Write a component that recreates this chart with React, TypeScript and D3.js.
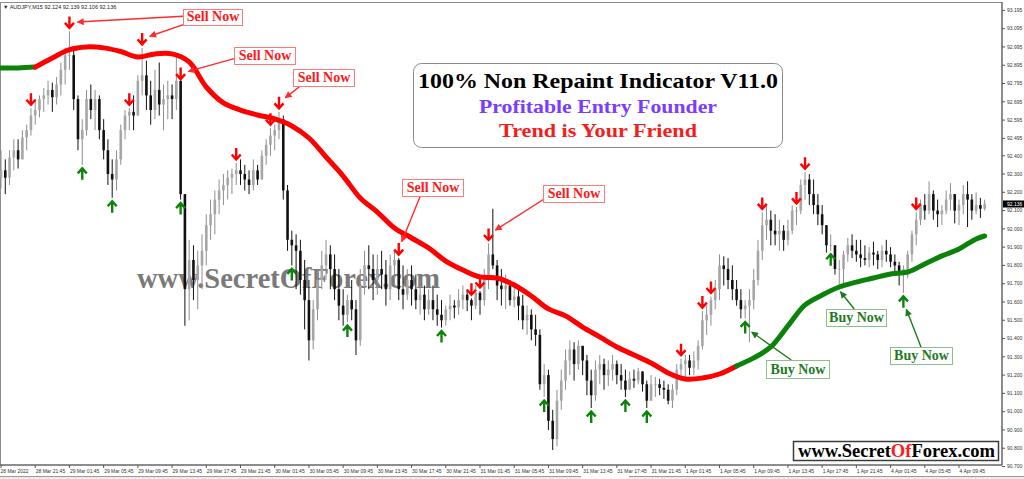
import React, { useEffect, useRef } from "react";
import * as d3 from "d3";

const W = 1024;
const H = 479;

// AUDJPY M15, one candle per 30 minutes
const highs = [
  92.43, 92.38, 92.43, 92.49, 92.49, 92.54, 92.57, 92.66,
  92.71, 92.73, 92.77, 92.81, 92.80, 92.83, 92.91, 92.99,
  93.08, 92.98, 92.73, 92.60, 92.76, 92.79, 92.76, 92.73,
  92.60, 92.49, 92.38, 92.43, 92.57, 92.65, 92.66, 92.73,
  92.84, 92.99, 92.92, 92.81, 92.87, 92.91, 92.79, 92.81,
  92.79, 92.94, 92.80, 92.19, 91.94, 91.91, 91.88, 91.97,
  92.08, 92.16, 92.21, 92.27, 92.30, 92.32, 92.33, 92.36,
  92.38, 92.35, 92.32, 92.38, 92.35, 92.43, 92.49, 92.55,
  92.57, 92.64, 92.62, 92.24, 91.99, 91.97, 91.94, 91.83,
  91.72, 91.61, 91.78, 91.88, 91.94, 91.91, 91.86, 91.78,
  91.67, 91.64, 91.72, 91.61, 91.78, 91.88, 91.91, 91.86,
  91.86, 91.88, 91.83, 91.86, 91.88, 91.84, 91.80, 91.78,
  91.80, 91.75, 91.72, 91.69, 91.67, 91.69, 91.64, 91.61,
  91.58, 91.64, 91.61, 91.67, 91.69, 91.67, 91.62, 91.69,
  91.66, 91.78, 91.92, 92.11, 91.83, 91.78, 91.75, 91.72,
  91.71,
  91.69, 91.64, 91.58, 91.56, 91.53, 91.45, 91.26, 91.23,
  91.01, 91.12, 91.23, 91.34, 91.39, 91.38, 91.39, 91.36,
  91.31, 91.23, 91.28, 91.31, 91.29, 91.28, 91.31, 91.28,
  91.26, 91.23, 91.22, 91.23, 91.24, 91.22, 91.17, 91.20,
  91.19, 91.18, 91.17, 91.15, 91.15, 91.26, 91.29, 91.31,
  91.31, 91.33, 91.39, 91.55, 91.58, 91.63, 91.72, 91.86,
  91.85, 91.84, 91.80, 91.72, 91.67, 91.61, 91.67, 91.78,
  91.94, 92.09, 92.13, 92.10, 92.08, 92.05, 92.02, 92.05,
  92.13, 92.12, 92.27, 92.31, 92.30, 92.27, 92.19, 92.13,
  92.02, 91.97, 91.91, 91.83, 91.88, 91.95, 91.97, 91.94,
  91.94, 91.91, 91.90, 91.93, 91.88, 91.91, 91.94, 91.90,
  91.86, 91.82, 91.80, 91.88, 91.99, 92.09, 92.16, 92.19,
  92.26, 92.21, 92.16, 92.13, 92.21, 92.25, 92.19, 92.16,
  92.24, 92.26, 92.19, 92.20, 92.17, 92.16,
];

const lows = [
  92.22, 92.19, 92.24, 92.32, 92.33, 92.38, 92.43, 92.51,
  92.57, 92.61, 92.64, 92.68, 92.64, 92.68, 92.73, 92.79,
  92.87, 92.65, 92.43, 92.35, 92.51, 92.60, 92.54, 92.49,
  92.38, 92.24, 92.17, 92.21, 92.35, 92.49, 92.54, 92.54,
  92.62, 92.73, 92.65, 92.57, 92.60, 92.62, 92.54, 92.60,
  92.60, 92.65, 92.16, 91.47, 91.50, 91.61, 91.56, 91.67,
  91.80, 91.94, 91.97, 92.08, 92.13, 92.16, 92.19, 92.24,
  92.24, 92.21, 92.19, 92.21, 92.24, 92.27, 92.35, 92.40,
  92.43, 92.49, 92.16, 91.88, 91.80, 91.67, 91.64, 91.45,
  91.28, 91.34, 91.50, 91.67, 91.72, 91.67, 91.61, 91.50,
  91.47, 91.49, 91.50, 91.31, 91.36, 91.64, 91.67, 91.61,
  91.64, 91.67, 91.58, 91.61, 91.69, 91.61, 91.56, 91.61,
  91.58, 91.56, 91.53, 91.50, 91.53, 91.50, 91.47, 91.46,
  91.47, 91.50, 91.51, 91.53, 91.56, 91.55, 91.50, 91.56,
  91.53, 91.58, 91.67, 91.78, 91.61, 91.58, 91.56, 91.58,
  91.57,
  91.50, 91.45, 91.42, 91.39, 91.36, 91.12, 91.08, 90.90,
  90.79, 90.81, 91.01, 91.12, 91.20, 91.17, 91.23, 91.20,
  91.09, 91.02, 91.06, 91.15, 91.12, 91.14, 91.17, 91.15,
  91.12, 91.08, 91.12, 91.13, 91.15, 91.11, 91.02, 91.06,
  91.08, 91.09, 91.07, 91.04, 91.02, 91.09, 91.17, 91.18,
  91.20, 91.20, 91.23, 91.34, 91.42, 91.47, 91.56, 91.61,
  91.69, 91.67, 91.61, 91.58, 91.51, 91.51, 91.38, 91.56,
  91.69, 91.83, 91.94, 91.91, 91.91, 91.88, 91.88, 91.91,
  91.97, 92.02, 92.08, 92.16, 92.13, 92.08, 92.02, 91.97,
  91.87, 91.88, 91.75, 91.67, 91.69, 91.82, 91.84, 91.82,
  91.79, 91.80, 91.79, 91.80, 91.78, 91.79, 91.82, 91.79,
  91.75, 91.69, 91.65, 91.73, 91.82, 91.91, 92.02, 92.05,
  92.08, 92.05, 92.01, 92.02, 92.08, 92.10, 92.03, 92.02,
  92.08, 92.01, 92.05, 92.08, 92.06, 92.10,
];

const closes = [
  92.32, 92.28, 92.39, 92.43, 92.38, 92.50, 92.54, 92.62,
  92.65, 92.71, 92.73, 92.76, 92.72, 92.79, 92.87, 92.95,
  92.95, 92.71, 92.49, 92.54, 92.71, 92.65, 92.71, 92.54,
  92.43, 92.30, 92.27, 92.38, 92.54, 92.62, 92.64, 92.62,
  92.81, 92.84, 92.73, 92.65, 92.76, 92.68, 92.71, 92.73,
  92.71, 92.81, 92.19, 91.67, 91.83, 91.72, 91.80, 91.88,
  92.02, 92.08, 92.16, 92.21, 92.24, 92.28, 92.30, 92.32,
  92.30, 92.27, 92.24, 92.32, 92.27, 92.40, 92.46, 92.51,
  92.54, 92.60, 92.21, 91.94, 91.91, 91.88, 91.72, 91.61,
  91.39, 91.56, 91.72, 91.80, 91.86, 91.78, 91.67, 91.58,
  91.53, 91.61, 91.56, 91.39, 91.69, 91.80, 91.78, 91.72,
  91.78, 91.75, 91.67, 91.80, 91.83, 91.67, 91.64, 91.72,
  91.67, 91.61, 91.64, 91.56, 91.61, 91.56, 91.53, 91.50,
  91.56, 91.58, 91.57, 91.61, 91.64, 91.61, 91.58, 91.65,
  91.61, 91.72, 91.86, 91.80, 91.69, 91.67, 91.69, 91.61,
  91.63,
  91.58, 91.50, 91.53, 91.45, 91.42, 91.15, 91.20, 90.95,
  90.85, 91.06, 91.17, 91.28, 91.34, 91.26, 91.36, 91.28,
  91.17, 91.09, 91.23, 91.26, 91.20, 91.23, 91.26, 91.20,
  91.17, 91.12, 91.18, 91.17, 91.22, 91.15, 91.06, 91.15,
  91.15, 91.13, 91.12, 91.06, 91.12, 91.23, 91.26, 91.28,
  91.24, 91.28, 91.36, 91.50, 91.53, 91.61, 91.67, 91.80,
  91.78, 91.72, 91.67, 91.61, 91.56, 91.58, 91.61, 91.72,
  91.88, 92.02, 92.05, 91.99, 91.97, 91.99, 91.94, 91.99,
  92.10, 92.10, 92.24, 92.27, 92.19, 92.13, 92.08, 92.02,
  91.91, 91.91, 91.78, 91.78, 91.86, 91.91, 91.88, 91.86,
  91.84, 91.83, 91.87, 91.86, 91.83, 91.88, 91.86, 91.82,
  91.80, 91.75, 91.78, 91.86, 91.97, 92.05, 92.13, 92.10,
  92.19, 92.10, 92.08, 92.10, 92.16, 92.19, 92.10, 92.13,
  92.19, 92.16, 92.10, 92.13, 92.11, 92.136,
];
const firstOpen = 92.28;

// trend line, one point every 4 candles (last one on the last candle)
const maValues = [
  92.88, 92.88, 92.885, 92.935, 92.98, 92.995, 92.99, 92.97, 92.94, 92.957,
  92.957, 92.913, 92.776, 92.689, 92.65, 92.623, 92.601, 92.563, 92.497, 92.393,
  92.289, 92.169, 92.092, 92.005, 91.95, 91.895, 91.824, 91.775, 91.737, 91.731,
  91.693, 91.633, 91.562, 91.524, 91.463, 91.409, 91.354, 91.31, 91.266, 91.212,
  91.179, 91.184, 91.206, 91.25, 91.294, 91.354, 91.469, 91.584, 91.638, 91.682,
  91.709, 91.731, 91.753, 91.764, 91.808, 91.852, 91.89, 91.945, 91.961,
];
// trend flips (index in maValues): up -> down, down -> up
const trendFlips = [2, 43];

const sellSignals = [7, 16, 30, 33, 42, 55, 63, 65, 93, 110, 112, 114, 159, 164, 166, 178, 186, 188, 214];
const buySignals = [19, 26, 42, 68, 81, 103, 127, 138, 146, 151, 174, 194, 211];

const timeLabels = [
  "28 Mar 2022", "28 Mar 21:45", "29 Mar 01:45", "29 Mar 05:45", "29 Mar 09:45",
  "29 Mar 13:45", "29 Mar 17:45", "29 Mar 21:45", "30 Mar 01:45", "30 Mar 05:45",
  "30 Mar 09:45", "30 Mar 13:45", "30 Mar 17:45", "30 Mar 21:45", "31 Mar 01:45",
  "31 Mar 05:45", "31 Mar 09:45", "31 Mar 13:45", "31 Mar 17:45", "31 Mar 21:45",
  "1 Apr 01:45", "1 Apr 05:45", "1 Apr 09:45", "1 Apr 13:45", "1 Apr 17:45",
  "1 Apr 21:45", "4 Apr 01:45", "4 Apr 05:45", "4 Apr 09:45",
];

const priceTicks = [
  93.195, 93.095, 92.995, 92.895, 92.795, 92.695, 92.595, 92.495, 92.4, 92.3,
  92.2, 92.1, 92.0, 91.9, 91.8, 91.7, 91.6, 91.5, 91.4, 91.3,
  91.2, 91.1, 91.0, 90.9, 90.8, 90.7,
];
const lastPrice = 92.136;
const headerText = "\u25BC AUDJPY,M15  92.124 92.139 92.106 92.136";

const titleLines = [
  { text: "100% Non Repaint Indicator V11.0", color: "#000000" },
  { text: "Profitable Entry Founder", color: "#7a3cff" },
  { text: "Trend is Your Friend", color: "#f51c1c" },
];

const callouts = [
  { text: "Sell Now", kind: "sell", box: [183, 9, 59, 16], pointers: [{ at: [0, 0.45], target: 16 }, { at: [0.03, 0.95], target: 33 }] },
  { text: "Sell Now", kind: "sell", box: [234, 47, 61, 17], pointers: [{ at: [0.03, 0.65], target: 42 }] },
  { text: "Sell Now", kind: "sell", box: [293, 69, 61, 17], pointers: [{ at: [0.12, 1], target: 65 }] },
  { text: "Sell Now", kind: "sell", box: [402, 179, 61, 17], pointers: [{ at: [0.3, 1], target: 93 }] },
  { text: "Sell Now", kind: "sell", box: [543, 185, 61, 17], pointers: [{ at: [0.05, 0.75], target: 114 }] },
  { text: "Buy Now", kind: "buy", box: [766, 360, 63, 18], pointers: [{ at: [0.4, 0], target: 174 }] },
  { text: "Buy Now", kind: "buy", box: [826, 309, 60, 17], pointers: [{ at: [0.47, 0], target: 196, low: true }] },
  { text: "Buy Now", kind: "buy", box: [890, 347, 62, 17], pointers: [{ at: [0.5, 0], target: 211 }] },
];

const RED = "#ff0000";
const GREEN = "#0b830b";
const SERIF = "'Liberation Serif', 'DejaVu Serif', serif";
const SANS = "'Liberation Sans', Arial, sans-serif";

export default function App() {
  const svgRef = useRef<SVGSVGElement>(null);

  useEffect(() => {
    const svg = d3.select(svgRef.current);
    svg.selectAll("*").remove();

    const plotRight = 1002;
    const plotBottom = 465;

    // label k sits on candle 8k
    const x = d3.scaleLinear().domain([0, 224]).range([1, 959]);
    const y = d3.scaleLinear().domain([90.7, 93.195]).range([466.5, 10.4]);

    const defs = svg.append("defs");
    [["ah-sell", "#ff2a2a"], ["ah-buy", "#1b7a1b"]].forEach(([id, col]) => {
      defs.append("marker")
        .attr("id", id)
        .attr("viewBox", "0 0 10 10")
        .attr("refX", 9).attr("refY", 5)
        .attr("markerWidth", 8).attr("markerHeight", 7)
        .attr("markerUnits", "userSpaceOnUse")
        .attr("orient", "auto")
        .append("path").attr("d", "M0,0 L10,5 L0,10 z").attr("fill", col);
    });

    // background + frame
    svg.append("rect").attr("width", W).attr("height", H).attr("fill", "#ffffff");
    svg.append("rect")
      .attr("x", 0.5).attr("y", 2.5)
      .attr("width", plotRight - 0.5).attr("height", plotBottom - 2.5)
      .attr("fill", "none").attr("stroke", "#8c8c8c");

    // watermark
    svg.append("text")
      .attr("x", 137).attr("y", 288)
      .attr("textLength", 303).attr("lengthAdjust", "spacingAndGlyphs")
      .attr("font-family", SERIF).attr("font-weight", "bold").attr("font-size", 30)
      .attr("fill", "#7a7a7a")
      .text("www.SecretOfForex.com");

    // candles
    const candles = closes.map((c, i) => ({
      i, c, h: highs[i], l: lows[i], o: i === 0 ? firstOpen : closes[i - 1],
    }));
    const bw = 2.6;
    const cg = svg.append("g");
    cg.selectAll("line")
      .data(candles)
      .join("line")
      .attr("x1", d => x(d.i)).attr("x2", d => x(d.i))
      .attr("y1", d => y(Math.max(d.h, d.o, d.c)))
      .attr("y2", d => y(Math.min(d.l, d.o, d.c)))
      .attr("stroke", d => (d.c >= d.o ? "#8e8e8e" : "#111111"))
      .attr("stroke-width", 1);
    cg.selectAll("rect")
      .data(candles)
      .join("rect")
      .attr("x", d => x(d.i) - bw / 2)
      .attr("width", bw)
      .attr("y", d => y(Math.max(d.o, d.c)))
      .attr("height", d => Math.max(0.8, Math.abs(y(d.o) - y(d.c))))
      .attr("fill", d => (d.c >= d.o ? "#a6a6a6" : "#111111"));

    // trend line
    const maPts = maValues.map((v, j) => [x(Math.min(j * 4, closes.length - 1)), y(v)] as [number, number]);
    const line = d3.line().curve(d3.curveCatmullRom);
    const cuts = [0, ...trendFlips, maPts.length - 1];
    cuts.slice(0, -1).forEach((start, s) => {
      svg.append("path")
        .attr("d", line(maPts.slice(start, cuts[s + 1] + 1)))
        .attr("fill", "none")
        .attr("stroke", s % 2 === 0 ? GREEN : RED)
        .attr("stroke-width", 5)
        .attr("stroke-linecap", "round");
    });

    // signal arrows
    const sellCenter = (i: number) => [x(i), y(highs[i]) - 9] as [number, number];
    const buyCenter = (i: number) => [x(i), y(lows[i]) + 9] as [number, number];
    svg.append("g").selectAll("path")
      .data(sellSignals)
      .join("path")
      .attr("transform", i => `translate(${sellCenter(i)[0]},${sellCenter(i)[1]})`)
      .attr("d", "M0,-6 L0,5 M-4.5,0.5 L0,5.5 L4.5,0.5")
      .attr("fill", "none").attr("stroke", RED).attr("stroke-width", 2.4);
    svg.append("g").selectAll("path")
      .data(buySignals)
      .join("path")
      .attr("transform", i => `translate(${buyCenter(i)[0]},${buyCenter(i)[1]})`)
      .attr("d", "M0,6 L0,-5 M-4.5,-0.5 L0,-5.5 L4.5,-0.5")
      .attr("fill", "none").attr("stroke", GREEN).attr("stroke-width", 2.4);

    // callouts
    callouts.forEach(co => {
      const [bx, by, bwid, bh] = co.box;
      const sell = co.kind === "sell";
      co.pointers.forEach(p => {
        const sx = bx + p.at[0] * bwid;
        const sy = by + p.at[1] * bh;
        const c = p.low
          ? ([x(p.target), y(lows[p.target]) + 1] as [number, number])
          : sell ? sellCenter(p.target) : buyCenter(p.target);
        const dx = sx - c[0], dy = sy - c[1];
        const len = Math.hypot(dx, dy);
        const off = p.low ? 2 : 8;
        svg.append("line")
          .attr("x1", sx).attr("y1", sy)
          .attr("x2", c[0] + (dx / len) * off).attr("y2", c[1] + (dy / len) * off)
          .attr("stroke", sell ? "#ff2a2a" : "#1b7a1b")
          .attr("stroke-width", 1.4)
          .attr("marker-end", `url(#${sell ? "ah-sell" : "ah-buy"})`);
      });
      svg.append("rect")
        .attr("x", bx + 0.5).attr("y", by + 0.5)
        .attr("width", bwid).attr("height", bh)
        .attr("fill", "#ffffff")
        .attr("stroke", sell ? "#ff7a7a" : "#8cbf8c").attr("stroke-width", 1);
      svg.append("text")
        .attr("x", bx + bwid / 2 + 0.5).attr("y", by + bh - 4)
        .attr("text-anchor", "middle")
        .attr("font-family", SERIF).attr("font-weight", "bold").attr("font-size", 14)
        .attr("fill", sell ? "#ff1a1a" : "#1f7a1f")
        .text(co.text);
    });

    // title box
    svg.append("rect")
      .attr("x", 413.5).attr("y", 63.5).attr("width", 369).attr("height", 84).attr("rx", 8)
      .attr("fill", "#ffffff").attr("stroke", "#8a8a8a");
    const titleY = [88, 113, 137];
    const titleSize = [22, 19, 19];
    const titleW = [360, 238, 198];
    titleLines.forEach((t, k) => {
      svg.append("text")
        .attr("x", 598).attr("y", titleY[k])
        .attr("text-anchor", "middle")
        .attr("textLength", titleW[k]).attr("lengthAdjust", "spacingAndGlyphs")
        .attr("font-family", SERIF).attr("font-weight", "bold").attr("font-size", titleSize[k])
        .attr("fill", t.color)
        .text(t.text);
    });

    // site box bottom right
    svg.append("rect")
      .attr("x", 793.5).attr("y", 441.5).attr("width", 205).attr("height", 19)
      .attr("fill", "#ffffff").attr("stroke", "#3c3c3c").attr("stroke-width", 1.5);
    const site = svg.append("text")
      .attr("x", 798).attr("y", 457)
      .attr("textLength", 197).attr("lengthAdjust", "spacingAndGlyphs")
      .attr("font-family", SERIF).attr("font-weight", "bold").attr("font-size", 18)
      .attr("fill", "#000000");
    site.append("tspan").text("www.Secret");
    site.append("tspan").attr("fill", "#ff1a1a").text("Of");
    site.append("tspan").text("Forex.com");

    // header
    svg.append("text")
      .attr("x", 3).attr("y", 8.5)
      .attr("font-family", SANS).attr("font-size", 5.5).attr("fill", "#222")
      .text(headerText);

    // right price axis
    svg.append("line")
      .attr("x1", plotRight).attr("x2", plotRight).attr("y1", 2).attr("y2", plotBottom)
      .attr("stroke", "#555");
    const pa = svg.append("g");
    pa.selectAll("line").data(priceTicks).join("line")
      .attr("x1", plotRight).attr("x2", plotRight + 3)
      .attr("y1", d => y(d)).attr("y2", d => y(d))
      .attr("stroke", "#555");
    pa.selectAll("text").data(priceTicks).join("text")
      .attr("x", plotRight + 5).attr("y", d => y(d) + 1.8)
      .attr("font-family", SANS).attr("font-size", 5).attr("fill", "#333")
      .text(d => d.toFixed(3));
    svg.append("rect")
      .attr("x", plotRight + 1).attr("y", y(lastPrice) - 3.5).attr("width", 21).attr("height", 7)
      .attr("fill", "#000");
    svg.append("text")
      .attr("x", plotRight + 5).attr("y", y(lastPrice) + 1.8)
      .attr("font-family", SANS).attr("font-size", 5).attr("fill", "#fff")
      .text(lastPrice.toFixed(3));

    // time axis
    svg.append("line")
      .attr("x1", 0).attr("x2", plotRight).attr("y1", plotBottom).attr("y2", plotBottom)
      .attr("stroke", "#555");
    const ta = svg.append("g");
    ta.selectAll("line").data(timeLabels).join("line")
      .attr("x1", (_, k) => x(k * 8)).attr("x2", (_, k) => x(k * 8))
      .attr("y1", plotBottom).attr("y2", plotBottom + 3)
      .attr("stroke", "#555");
    ta.selectAll("text").data(timeLabels).join("text")
      .attr("x", (_, k) => x(k * 8) + (k === 0 ? -0.5 : 0.5)).attr("y", 473)
      .attr("font-family", SANS).attr("font-size", 5).attr("fill", "#333")
      .text(d => d);

    // tab strip
    svg.append("rect").attr("x", 0).attr("y", 476).attr("width", W).attr("height", 3).attr("fill", "#ececec");
    svg.append("line").attr("x1", 0).attr("x2", W).attr("y1", 476.5).attr("y2", 476.5).attr("stroke", "#9a9a9a");
    svg.append("rect").attr("x", 581).attr("y", 476).attr("width", 48).attr("height", 3).attr("fill", "#ffffff");
  }, []);

  return (
    <svg
      ref={svgRef}
      width={W}
      height={H}
      style={{ position: "absolute", left: 0, top: 0, display: "block" }}
    />
  );
}
